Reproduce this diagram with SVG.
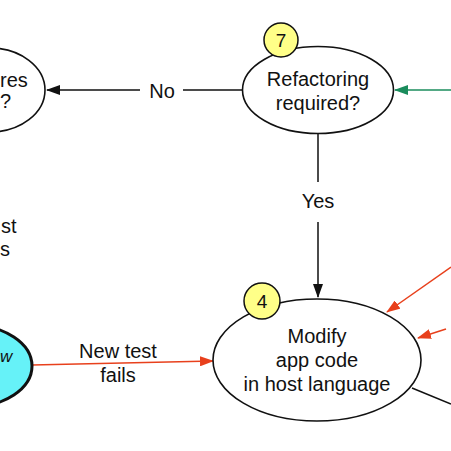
<svg xmlns="http://www.w3.org/2000/svg" width="451" height="451" viewBox="0 0 451 451">
<style>
text{font-family:"Liberation Sans",Arial,sans-serif;font-size:20px;fill:#111}
.node{fill:#fff;stroke:#111;stroke-width:1.6}
.badge{fill:#ffff88;stroke:#111;stroke-width:1.5}
.edge{fill:none;stroke:#111;stroke-width:1.5}
.red{stroke:#e8401c}
.green{stroke:#1a8c5c}
.mid{text-anchor:middle}
.start{text-anchor:start}
</style>
<defs>
<marker id="ab" markerWidth="14" markerHeight="10" refX="13" refY="5" orient="auto" markerUnits="userSpaceOnUse"><path d="M0,0 L14,5 L0,10 Z" fill="#111"/></marker>
<marker id="ar" markerWidth="14" markerHeight="10" refX="13" refY="5" orient="auto" markerUnits="userSpaceOnUse"><path d="M0,0 L14,5 L0,10 Z" fill="#e8401c"/></marker>
<marker id="ag" markerWidth="14" markerHeight="10" refX="13" refY="5" orient="auto" markerUnits="userSpaceOnUse"><path d="M0,0 L14,5 L0,10 Z" fill="#1a8c5c"/></marker>
</defs>
<rect width="451" height="451" fill="#fff"/>
<g id="connectors">
<path class="edge" d="M242,90 H183 M140,90 H47" marker-end="url(#ab)"/>
<text class="mid" x="162" y="98">No</text>
<path class="edge green" d="M451,90 H395" marker-end="url(#ag)"/>
<path class="edge" d="M318,133 V182 M318,222 V297" marker-end="url(#ab)"/>
<text class="mid" x="318" y="208">Yes</text>
<path class="edge red" d="M451,267 L387,312" marker-end="url(#ar)"/>
<path class="edge red" d="M446,329 L418,338" marker-end="url(#ar)"/>
<path class="edge" d="M412,388 L451,404"/>
<path class="edge red" d="M32,365 L213,361" marker-end="url(#ar)"/>
<text class="mid" x="118" y="358">New test</text>
<text class="mid" x="118" y="382">fails</text>
<text class="start" x="1" y="233">st</text>
<text class="start" x="0" y="256">s</text>
</g>
<g id="node-left">
<ellipse class="node" cx="-10" cy="90" rx="55" ry="42"/>
<text class="start" x="0" y="87">res</text>
<text class="start" x="0" y="108">?</text>
</g>
<g id="node-7">
<ellipse class="node" cx="318" cy="90" rx="75.5" ry="43.5"/>
<text class="mid" x="318" y="86">Refactoring</text>
<text class="mid" x="318" y="110">required?</text>
<circle class="badge" cx="281" cy="40" r="17"/>
<text class="mid" x="281" y="47" style="font-size:19px">7</text>
</g>
<g id="node-4">
<ellipse class="node" cx="317" cy="360" rx="104" ry="61"/>
<text class="mid" x="317" y="343">Modify</text>
<text class="mid" x="317" y="367">app code</text>
<text class="mid" x="317" y="391">in host language</text>
<circle class="badge" cx="262" cy="301" r="18"/>
<text class="mid" x="262" y="308" style="font-size:19px">4</text>
</g>
<g id="node-new">
<ellipse cx="-30" cy="366" rx="62" ry="41" fill="#66f2f8" stroke="#111" stroke-width="3"/>
<text class="start" x="0" y="362" style="font-size:17px;font-style:italic">w</text>
</g>
</svg>
